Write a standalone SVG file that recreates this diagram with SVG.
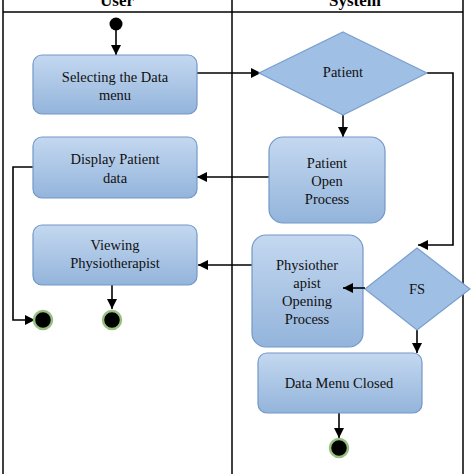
<svg xmlns="http://www.w3.org/2000/svg" width="474" height="474" viewBox="0 0 474 474">
<defs>
<linearGradient id="g" x1="0" y1="0" x2="0" y2="1">
<stop offset="0" stop-color="#c4d8f0"/>
<stop offset="1" stop-color="#93b4db"/>
</linearGradient>
<marker id="a" viewBox="0 0 10 10" refX="10" refY="5" markerWidth="10" markerHeight="10" markerUnits="userSpaceOnUse" orient="auto">
<path d="M0,0 L10,5 L0,10 z" fill="#000"/>
</marker>
<style>
.box{fill:url(#g);stroke:#7398c8;stroke-width:1.2}
.dia{fill:#9fbfe4;stroke:#7a9fcf;stroke-width:1.2}
.t{font-family:'Liberation Serif','DejaVu Serif',serif;font-size:14.5px;fill:#111;text-anchor:middle}
.h{font-family:'Liberation Serif','DejaVu Serif',serif;font-size:17px;font-weight:bold;fill:#000;text-anchor:middle}
.c{fill:none;stroke:#000;stroke-width:1.6}
.lane{fill:none;stroke:#000;stroke-width:1.5}
.end{fill:#000;stroke:#98c080;stroke-width:2.5}
</style>
</defs>
<rect width="474" height="474" fill="#fff"/>
<g id="lanes">
<line class="lane" x1="3" y1="0" x2="3" y2="474"/>
<line class="lane" x1="232" y1="0" x2="232" y2="474"/>
<line class="lane" x1="463" y1="0" x2="463" y2="474"/>
<line class="lane" x1="3" y1="12" x2="463" y2="12"/>
<text class="h" font-family="Liberation Serif, serif" x="117" y="6">User</text>
<text class="h" font-family="Liberation Serif, serif" x="355" y="6">System</text>
</g>
<g id="connectors">
<path class="c" d="M116,30 L116,55" marker-end="url(#a)"/>
<path class="c" d="M197,73 L261,73" marker-end="url(#a)"/>
<path class="c" d="M343,115 L343,137" marker-end="url(#a)"/>
<path class="c" d="M427,73 L453,73 L453,245 L418,245" marker-end="url(#a)"/>
<path class="c" d="M269,177 L197,177" marker-end="url(#a)"/>
<path class="c" d="M252,265 L198,265" marker-end="url(#a)"/>
<path class="c" d="M33,167 L13,167 L13,320 L35,320" marker-end="url(#a)"/>
<path class="c" d="M112,285 L112,309" marker-end="url(#a)"/>
<path class="c" d="M417,330 L417,353" marker-end="url(#a)"/>
<path class="c" d="M339,413 L339,438" marker-end="url(#a)"/>
</g>
<g id="start"><circle cx="116" cy="24" r="6.5" fill="#000"/></g>
<g font-family="Liberation Serif, serif">
<g id="selecting">
<rect class="box" x="33" y="55" width="164" height="59" rx="9"/>
<text class="t" x="115" y="82">Selecting the Data</text>
<text class="t" x="115" y="100">menu</text>
</g>
<g id="patient">
<polygon class="dia" points="343,32 427,73 343,115 259,73"/>
<text class="t" x="343" y="77">Patient</text>
</g>
<g id="patientOpen">
<rect class="box" x="269" y="137" width="116" height="86" rx="14"/>
<text class="t" x="327" y="168">Patient</text>
<text class="t" x="327" y="186">Open</text>
<text class="t" x="327" y="204">Process</text>
</g>
<g id="display">
<rect class="box" x="33" y="137" width="164" height="61" rx="9"/>
<text class="t" x="115" y="164">Display Patient</text>
<text class="t" x="115" y="183">data</text>
</g>
<g id="physio">
<rect class="box" x="252" y="235" width="111" height="112" rx="14"/>
<text class="t" x="307" y="270">Physiother</text>
<text class="t" x="307" y="288">apist</text>
<text class="t" x="307" y="306">Opening</text>
<text class="t" x="307" y="324">Process</text>
</g>
<g id="fs">
<polygon class="dia" points="417,248 470,289 417,330 365,289"/>
<text class="t" x="417" y="294">FS</text>
</g>
<path class="c" d="M365,288 L343,288" marker-end="url(#a)"/>
<g id="viewing">
<rect class="box" x="33" y="225" width="164" height="60" rx="9"/>
<text class="t" x="115" y="250">Viewing</text>
<text class="t" x="115" y="268">Physiotherapist</text>
</g>
<g id="closed">
<rect class="box" x="258" y="353" width="164" height="60" rx="9"/>
<text class="t" x="339" y="388">Data Menu Closed</text>
</g>
</g>
<g id="end1"><circle class="end" cx="43" cy="320" r="9"/></g>
<g id="end2"><circle class="end" cx="112" cy="320" r="9"/></g>
<g id="end3"><circle class="end" cx="339" cy="448" r="9"/></g>
</svg>
